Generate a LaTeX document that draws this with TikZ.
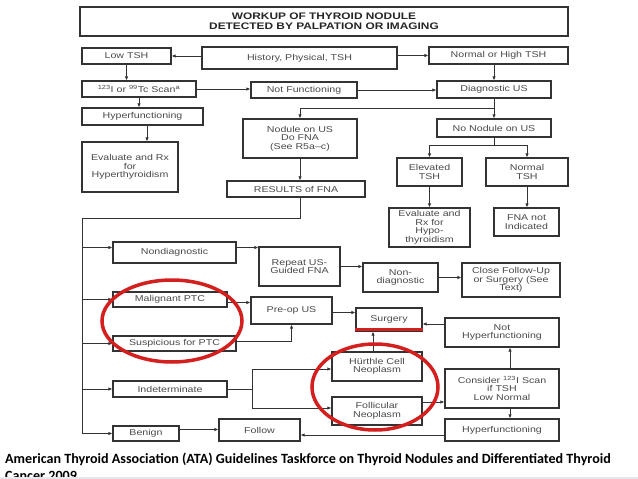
\documentclass[tikz,border=0pt]{standalone}
\usepackage{fontspec}
\setmainfont{Liberation Sans}
\newfontfamily\dfont[FakeStretch=1.25]{Liberation Sans}
\newfontfamily\capfont{Carlito}
\usetikzlibrary{arrows.meta}
\definecolor{boxc}{HTML}{333333}
\definecolor{linec}{HTML}{333333}
\definecolor{txtc}{HTML}{4A4A4A}
\definecolor{ringred}{HTML}{D41F1F}
\definecolor{stripc}{HTML}{E6E8EC}
\newcommand\bxn[7][]{\node[bx,#1,minimum width={(#5-#3)*1pt},minimum height={(#6-#4)*1pt}] (#2) at ({(#3+#5)/2},{(#4+#6)/2}) {#7};}
\begin{document}
\begin{tikzpicture}[x=1pt,y=-1pt,
 bx/.style={draw=boxc, line width=1.2pt, inner sep=0pt, align=center, font=\dfont\fontsize{8.5}{8.5}\selectfont, text=txtc},
 arr/.style={draw=linec, line width=0.9pt, -{Latex[length=4pt,width=3.5pt]}},
 ln/.style={draw=linec, line width=0.9pt},
 ring/.style={draw=ringred, line width=3.5pt}]
\useasboundingbox (0,0) rectangle (638,479);
\fill[white] (0,0) rectangle (638,479);

% boxes
\bxn[font=\dfont\bfseries\fontsize{9.5}{10}\selectfont, text=black!85]{title}{80}{7}{568}{36}{WORKUP OF THYROID NODULE\\DETECTED BY PALPATION OR IMAGING}
\bxn[line width=2.2pt]{hist}{202}{47}{397}{69}{History, Physical, TSH}
\bxn{low}{82}{48}{171}{64}{Low TSH}
\bxn{normal}{429}{47}{568}{64}{Normal or High TSH}
\bxn{scan}{82}{81}{196}{97}{\textsuperscript{123}I or \textsuperscript{99}Tc Scan\textsuperscript{a}}
\bxn{notf}{251}{82}{357}{98}{Not Functioning}
\bxn{dus}{437}{81}{551}{98}{Diagnostic US}
\bxn{hyperA}{82}{108}{203}{125}{Hyperfunctioning}
\bxn{evalhyper}{82}{142}{178}{192}{Evaluate and Rx\\for\\Hyperthyroidism}
\bxn{nodus}{243}{119}{357}{158}{Nodule on US\\Do FNA\\(See R5a–c)}
\bxn{nonod}{437}{119}{551}{137}{No Nodule on US}
\bxn{results}{227}{181}{365}{197}{RESULTS of FNA}
\bxn{elev}{397}{158}{462}{186}{Elevated\\TSH}
\bxn{normtsh}{486}{158}{568}{186}{Normal\\TSH}
\bxn{evalhypo}{389}{208}{470}{247}{Evaluate and\\Rx for\\Hypo-\\thyroidism}
\bxn{fnani}{494}{208}{559}{236}{FNA not\\Indicated}
\bxn{nondiag}{113}{242}{236}{263}{Nondiagnostic}
\bxn{repeat}{259}{247}{340}{286}{Repeat US-\\Guided FNA}
\bxn{nondB}{363}{263}{438}{292}{Non-\\diagnostic}
\bxn{close}{462}{263}{560}{297}{Close Follow-Up\\or Surgery (See\\Text)}
\bxn{malig}{113}{292}{227}{307}{Malignant PTC}
\bxn{preop}{251}{297}{332}{324}{Pre-op US}
\bxn{susp}{113}{336}{236}{351}{Suspicious for PTC}
\bxn{surgery}{356}{308}{422}{331}{Surgery}
\bxn{nothyper}{445}{318}{559}{347}{Not\\Hyperfunctioning}
\bxn{hurthle}{332}{352}{422}{381}{Hürthle Cell\\Neoplasm}
\bxn{foll}{332}{397}{422}{425}{Follicular\\Neoplasm}
\bxn{consider}{445}{369}{559}{408}{Consider \textsuperscript{123}I Scan\\if TSH\\Low Normal}
\bxn{hyperB}{445}{419}{559}{441}{Hyperfunctioning}
\bxn{indet}{113}{381}{227}{397}{Indeterminate}
\bxn{benign}{113}{426}{179}{441}{Benign}
\bxn{follow}{219}{419}{300}{441}{Follow}

% coordinates
\coordinate (jA) at (494,108);
\coordinate (jB) at (494,145);
\coordinate (sp) at (82,218);
\coordinate (jC) at (252,389);

% connectors
\draw[arr] (low.east -| hist.west) -- (low.east);
\draw[arr] (normal.west -| hist.east) -- (normal.west);
\draw[arr] (low.south) -- (low.south |- scan.north);
\draw[arr] (dus.north |- normal.south) -- (dus.north);
\draw[arr] (scan.east) -- (scan.east -| notf.west);
\draw[arr] (notf.east) -- (notf.east -| dus.west);
\draw[arr] (scan.south) -- (scan.south |- hyperA.north);
\draw[arr] ([xshift=4.5pt]hyperA.south) -- ([xshift=4.5pt]hyperA.south |- evalhyper.north);
\draw[arr] (dus.south) -- (nonod.north);
\draw[arr] (jA) -| (nodus.north);
\draw[arr] (nodus.south) -- (nodus.south |- results.north);
\draw[ln] (nonod.south) -- (jB);
\draw[arr] (jB) -| (elev.north);
\draw[arr] (jB) -| (normtsh.north);
\draw[arr] (elev.south) -- (evalhypo.north);
\draw[arr] (normtsh.south) -- (normtsh.south |- fnani.north);
\draw[ln] ([xshift=4pt]results.south) |- (sp) -- (sp |- benign.west);
\draw[arr] ([yshift=5pt]nondiag.west -| sp) -- ([yshift=5pt]nondiag.west);
\draw[arr] (malig.west -| sp) -- (malig.west);
\draw[arr] (susp.west -| sp) -- (susp.west);
\draw[arr] (indet.west -| sp) -- (indet.west);
\draw[arr] (benign.west -| sp) -- (benign.west);
\draw[arr] ([yshift=5pt]nondiag.east) -- ([yshift=5pt]nondiag.east -| repeat.west);
\draw[arr] (repeat.east) -- (repeat.east -| nondB.west);
\draw[arr] (nondB.east) -- (nondB.east -| close.west);
\draw[arr] ([yshift=-3pt]malig.east) -- ([yshift=-3pt]malig.east -| preop.west);
\draw[arr] ([yshift=2pt]susp.east) -| (preop.south);
\draw[arr] ([yshift=-2pt]preop.east) -- ([yshift=-2pt]preop.east -| surgery.west);
\draw[arr] ([yshift=-4.5pt]surgery.east -| nothyper.west) -- ([yshift=-4.5pt]surgery.east);
\draw[arr] ([xshift=-4pt]hurthle.north) -- ([xshift=-4pt]hurthle.north |- surgery.south);
\draw[ln] (indet.east) -- (indet.east -| jC);
\draw[arr] (indet.east -| jC) |- ([yshift=-2.5pt]hurthle.west);
\draw[arr] (indet.east -| jC) |- ([yshift=3pt]foll.west);
\draw[arr] ([yshift=9pt]foll.east) -- ([yshift=9pt]foll.east -| consider.west);
\draw[arr] ([xshift=8pt]consider.north) -- ([xshift=8pt]consider.north |- nothyper.south);
\draw[arr] ([xshift=8pt]consider.south) -- ([xshift=8pt]consider.south |- hyperB.north);
\draw[arr] ([yshift=-5pt]hyperB.west) -- ([yshift=-5pt]hyperB.west -| follow.east);
\draw[arr] ([yshift=4pt]benign.east) -- ([yshift=4pt]benign.east -| follow.west);

% red highlights
\draw[draw=ringred, line width=3pt] ([yshift=2pt]surgery.south west) -- ([yshift=2pt]surgery.south east);
\draw[ring] (172,321) ellipse [x radius=70, y radius=41];
\draw[ring] (375,387) ellipse [x radius=63, y radius=43];

% caption
\node[anchor=base west, inner sep=0pt, font=\capfont\bfseries\fontsize{14.1}{16}\selectfont] (capA) at (5,463.5) {American Thyroid Association (ATA) Guidelines Taskforce on Thyroid Nodules and Differentiated Thyroid};
\node[anchor=base west, inner sep=0pt, font=\capfont\bfseries\fontsize{14.1}{16}\selectfont] (capB) at (5,480.5) {Cancer 2009};
\fill[stripc] (0,477) rectangle (638,479);
\end{tikzpicture}
\end{document}
